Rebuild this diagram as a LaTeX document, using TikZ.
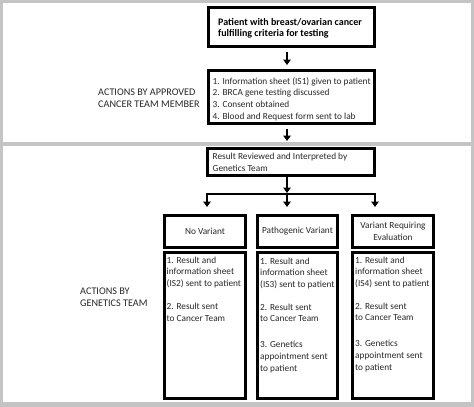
\documentclass[tikz,border=0pt]{standalone}
\usepackage{fontspec}
\setmainfont{Carlito}
\usetikzlibrary{arrows.meta}
\definecolor{panelgray}{RGB}{196,196,196}
\definecolor{txt}{RGB}{40,40,40}
\tikzset{
  box/.style={draw=black, line width=2.4pt, fill=white, inner sep=0pt},
  lbl/.style={inner sep=0pt, text=txt, font=\fontsize{9.3}{11.7}\selectfont, align=left},
  arr/.style={line width=1.7pt, -{Triangle[width=7.5pt,length=5.5pt]}},
  fork/.style={line width=1.7pt}
}
\begin{document}
\begin{tikzpicture}[x=1pt,y=-1pt]
\useasboundingbox (0,0) rectangle (474,407);
\fill[panelgray] (0,0) rectangle (474,407);
\fill[white] (3,3) rectangle (471,142);
\fill[white] (3,146) rectangle (471,402);

% top section
\node[box, minimum width=166pt, minimum height=39pt] (b1) at (291.5,27) {};
\node[lbl, anchor=west, text=black, font=\bfseries\fontsize{10}{11.5}\selectfont] (t1) at (218,28.5)
  {Patient with breast/ovarian cancer\\fulfilling criteria for testing};

\node[box, minimum width=166pt, minimum height=53pt] (b2) at (291.5,97) {};
\node[lbl, anchor=west] (t2) at (212.5,99)
  {1. Information sheet (IS1) given to patient\\2. BRCA gene testing discussed\\3. Consent obtained\\4. Blood and Request form sent to lab};

\node[lbl, anchor=west, font=\fontsize{10.2}{11.7}\selectfont] (l1) at (98,98.5)
  {ACTIONS BY APPROVED\\CANCER TEAM MEMBER};

\draw[arr] (287,52) -- (287,65);
\draw[arr] (287,129) -- (287,141);

% bottom section
\node[box, minimum width=167pt, minimum height=27pt] (b3) at (291,162) {};
\node[lbl, anchor=west] (t3) at (212.5,162.5)
  {Result Reviewed and Interpreted by\\Genetics Team};

\coordinate (fm) at (287,194);
\coordinate (fl) at (207,194);
\coordinate (fr) at (375,194);
\draw[arr] (b3.south -| fm) -- ([yshift=1pt]fm);
\draw[fork] ([xshift=-0.85pt]fl) -- ([xshift=0.85pt]fr);
\draw[arr] ([yshift=-0.85pt]fl) -- (207,207);
\draw[arr] (fm) -- (287,207);
\draw[arr] ([yshift=-0.85pt]fr) -- (375,207);

\node[box, minimum width=81pt, minimum height=32pt] (h1) at (205,231.5) {};
\node[box, minimum width=80pt, minimum height=32pt] (h2) at (297.5,231.5) {};
\node[box, minimum width=81pt, minimum height=32pt] (h3) at (393,231.5) {};
\node[lbl, align=center] (ht1) at (h1.center) {No Variant};
\node[lbl, align=center] (ht2) at (h2.center) {Pathogenic Variant};
\node[lbl, align=center] (ht3) at (h3.center) {Variant Requiring\\Evaluation};

\node[box, minimum width=81pt, minimum height=146pt] (c1) at (205,325.5) {};
\node[box, minimum width=80pt, minimum height=146pt] (c2) at (297.5,325.5) {};
\node[box, minimum width=81pt, minimum height=146pt] (c3) at (393,325.5) {};

\node[lbl, anchor=north west] (p11) at (166.5,256.5) {1. Result and\\information sheet\\(IS2) sent to patient};
\node[lbl, anchor=north west] (p12) at (166.5,303) {2. Result sent\\to Cancer Team};

\node[lbl, anchor=north west] (p21) at (260,257.5) {1. Result and\\information sheet\\(IS3) sent to patient};
\node[lbl, anchor=north west] (p22) at (260,303.5) {2. Result sent\\to Cancer Team};
\node[lbl, anchor=north west] (p23) at (260,341) {3. Genetics\\appointment sent\\to patient};

\node[lbl, anchor=north west] (p31) at (355,256.5) {1. Result and\\information sheet\\(IS4) sent to patient};
\node[lbl, anchor=north west] (p32) at (355,302.5) {2. Result sent\\to Cancer Team};
\node[lbl, anchor=north west] (p33) at (355,340) {3. Genetics\\appointment sent\\to patient};

\node[lbl, anchor=west, font=\fontsize{10.2}{11.7}\selectfont] (l2) at (80,297.5)
  {ACTIONS BY\\GENETICS TEAM};
\end{tikzpicture}
\end{document}
